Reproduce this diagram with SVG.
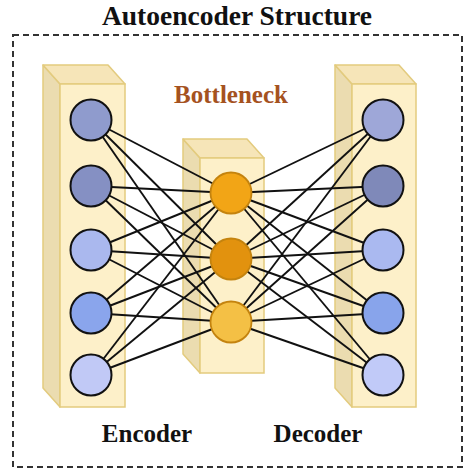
<svg xmlns="http://www.w3.org/2000/svg" width="474" height="474" viewBox="0 0 474 474">
<style>
.t{font-family:"Liberation Serif","Times New Roman",serif;font-weight:bold;text-anchor:middle}
.front{fill:#fdf0c9;stroke:#e3cb7e;stroke-width:1.5}
.top{fill:#f6e5b8;stroke:#e3cb7e;stroke-width:1.5;stroke-linejoin:round}
.side{fill:#ebdcb0;stroke:#e3cb7e;stroke-width:1.5;stroke-linejoin:round}
.b{stroke:#111;stroke-width:2}
.o{stroke:#c4830e;stroke-width:1.8}
#connectors line{stroke:#111;stroke-width:1.9}
</style>
<rect width="474" height="474" fill="#fff"/>
<rect x="13" y="35" width="449" height="432" fill="none" stroke="#333" stroke-width="2" stroke-dasharray="6,4"/>
<text class="t" x="237" y="25" font-size="27.5" fill="#111">Autoencoder Structure</text>
<g id="encoder-block">
<polygon class="side" points="43,65 60,84 60,407 43,388"/>
<polygon class="top" points="60,84 43,65 108,65 125,84"/>
<rect class="front" x="60" y="84" width="65" height="323"/>
</g>
<g id="bottleneck-block">
<polygon class="side" points="183,139 200,158 200,373 183,354"/>
<polygon class="top" points="200,158 183,139 247,139 264,158"/>
<rect class="front" x="200" y="158" width="64" height="215"/>
</g>
<g id="decoder-block">
<polygon class="side" points="335,65 352,84 352,407 335,388"/>
<polygon class="top" points="352,84 335,65 399,65 416,84"/>
<rect class="front" x="352" y="84" width="64" height="323"/>
</g>
<text class="t" x="231" y="103" font-size="25" fill="#a5521f">Bottleneck</text>
<g id="connectors">
<line x1="91" y1="120" x2="231" y2="193"/><line x1="91" y1="120" x2="231" y2="259"/><line x1="91" y1="120" x2="231" y2="322"/>
<line x1="91" y1="186" x2="231" y2="193"/><line x1="91" y1="186" x2="231" y2="259"/><line x1="91" y1="186" x2="231" y2="322"/>
<line x1="91" y1="250" x2="231" y2="193"/><line x1="91" y1="250" x2="231" y2="259"/><line x1="91" y1="250" x2="231" y2="322"/>
<line x1="91" y1="313" x2="231" y2="193"/><line x1="91" y1="313" x2="231" y2="259"/><line x1="91" y1="313" x2="231" y2="322"/>
<line x1="91" y1="375" x2="231" y2="193"/><line x1="91" y1="375" x2="231" y2="259"/><line x1="91" y1="375" x2="231" y2="322"/>
<line x1="231" y1="193" x2="383" y2="120"/><line x1="231" y1="193" x2="383" y2="186"/><line x1="231" y1="193" x2="383" y2="250"/><line x1="231" y1="193" x2="383" y2="313"/><line x1="231" y1="193" x2="383" y2="375"/>
<line x1="231" y1="259" x2="383" y2="120"/><line x1="231" y1="259" x2="383" y2="186"/><line x1="231" y1="259" x2="383" y2="250"/><line x1="231" y1="259" x2="383" y2="313"/><line x1="231" y1="259" x2="383" y2="375"/>
<line x1="231" y1="322" x2="383" y2="120"/><line x1="231" y1="322" x2="383" y2="186"/><line x1="231" y1="322" x2="383" y2="250"/><line x1="231" y1="322" x2="383" y2="313"/><line x1="231" y1="322" x2="383" y2="375"/>
</g>
<g id="enc1"><circle class="b" cx="91" cy="120" r="20.5" fill="#8f9bcd"/></g>
<g id="enc2"><circle class="b" cx="91" cy="186" r="20.5" fill="#8590c3"/></g>
<g id="enc3"><circle class="b" cx="91" cy="250" r="20.5" fill="#aab8ee"/></g>
<g id="enc4"><circle class="b" cx="91" cy="313" r="20.5" fill="#8aa5ec"/></g>
<g id="enc5"><circle class="b" cx="91" cy="375" r="20.5" fill="#c1c9f6"/></g>
<g id="bot1"><circle class="o" cx="231" cy="193" r="20.5" fill="#f2a516"/></g>
<g id="bot2"><circle class="o" cx="231" cy="259" r="20.5" fill="#e2920e"/></g>
<g id="bot3"><circle class="o" cx="231" cy="322" r="20.5" fill="#f4c045"/></g>
<g id="dec1"><circle class="b" cx="383" cy="120" r="20.5" fill="#9ea7d8"/></g>
<g id="dec2"><circle class="b" cx="383" cy="186" r="20.5" fill="#7f89b9"/></g>
<g id="dec3"><circle class="b" cx="383" cy="250" r="20.5" fill="#aab9f0"/></g>
<g id="dec4"><circle class="b" cx="383" cy="313" r="20.5" fill="#88a4eb"/></g>
<g id="dec5"><circle class="b" cx="383" cy="375" r="20.5" fill="#c1caf8"/></g>
<text class="t" x="147" y="442" font-size="25" fill="#111">Encoder</text>
<text class="t" x="318" y="442" font-size="25" fill="#111">Decoder</text>
</svg>
